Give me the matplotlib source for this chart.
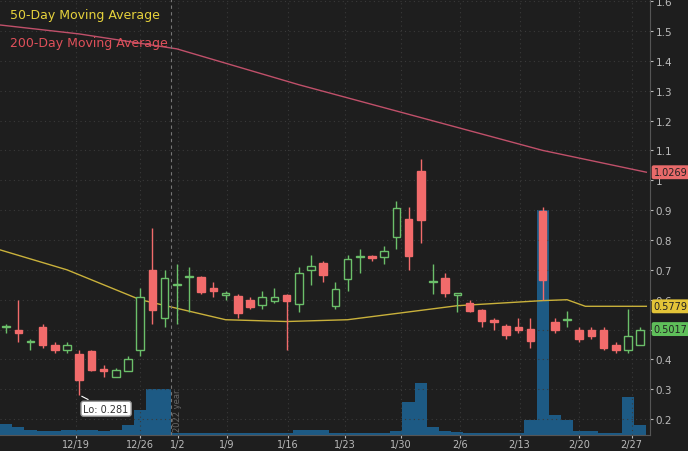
import matplotlib.pyplot as plt
import numpy as np

# OHLC per trading day (index 0 = first candle on the left)
opens = [0.507, 0.50, 0.457, 0.51, 0.45, 0.43, 0.417, 0.427, 0.367, 0.34, 0.36, 0.43, 0.70, 0.54,
         0.65, 0.677, 0.677, 0.64, 0.617, 0.613, 0.60, 0.583, 0.597, 0.617, 0.587, 0.70, 0.723, 0.58,
         0.67, 0.743, 0.747, 0.743, 0.81, 0.87, 1.03, 0.66, 0.673, 0.617, 0.59, 0.567, 0.53, 0.513,
         0.51, 0.503, 0.897, 0.527, 0.533, 0.50, 0.497, 0.50, 0.45, 0.433, 0.45]
closes = [0.507, 0.49, 0.457, 0.447, 0.43, 0.45, 0.33, 0.363, 0.36, 0.363, 0.40, 0.61, 0.567, 0.673,
          0.65, 0.677, 0.627, 0.63, 0.617, 0.557, 0.577, 0.61, 0.61, 0.597, 0.69, 0.713, 0.683, 0.637,
          0.737, 0.743, 0.74, 0.763, 0.907, 0.747, 0.867, 0.66, 0.623, 0.617, 0.563, 0.53, 0.527, 0.483,
          0.50, 0.463, 0.667, 0.50, 0.533, 0.47, 0.48, 0.437, 0.43, 0.477, 0.50]
highs = [0.52, 0.60, 0.47, 0.52, 0.46, 0.46, 0.433, 0.43, 0.38, 0.37, 0.41, 0.64, 0.84, 0.70,
         0.72, 0.71, 0.68, 0.66, 0.63, 0.62, 0.61, 0.63, 0.64, 0.62, 0.71, 0.75, 0.73, 0.66,
         0.75, 0.77, 0.75, 0.78, 0.93, 0.91, 1.07, 0.72, 0.69, 0.62, 0.60, 0.57, 0.54, 0.52,
         0.54, 0.54, 0.91, 0.54, 0.563, 0.51, 0.51, 0.51, 0.46, 0.57, 0.51]
lows = [0.49, 0.46, 0.43, 0.44, 0.42, 0.42, 0.281, 0.36, 0.34, 0.34, 0.36, 0.41, 0.52, 0.51,
        0.52, 0.56, 0.62, 0.61, 0.60, 0.54, 0.57, 0.57, 0.59, 0.43, 0.56, 0.65, 0.66, 0.57,
        0.63, 0.69, 0.73, 0.72, 0.77, 0.70, 0.79, 0.62, 0.61, 0.56, 0.56, 0.51, 0.50, 0.47,
        0.49, 0.44, 0.60, 0.49, 0.51, 0.46, 0.47, 0.43, 0.42, 0.42, 0.45]
# volume bar tops, drawn in price units above the bottom of the chart
volume = [0.183, 0.173, 0.163, 0.16, 0.16, 0.163, 0.165, 0.163, 0.16, 0.163, 0.18, 0.23, 0.30, 0.30,
          0.155, 0.155, 0.155, 0.155, 0.155, 0.155, 0.155, 0.155, 0.155, 0.155, 0.165, 0.165, 0.165, 0.155,
          0.155, 0.155, 0.155, 0.155, 0.16, 0.257, 0.32, 0.173, 0.16, 0.158, 0.155, 0.155, 0.155, 0.155,
          0.155, 0.197, 0.90, 0.213, 0.197, 0.16, 0.16, 0.155, 0.155, 0.273, 0.18]

ma50_idx = [-0.5, 5, 11, 18, 23, 28, 37, 44, 46, 47.5, 52.5]
ma50 = [0.767, 0.70, 0.60, 0.533, 0.527, 0.533, 0.58, 0.597, 0.60, 0.578, 0.578]
ma200_idx = [-0.5, 6, 14, 24, 34, 44, 52.5]
ma200 = [1.52, 1.49, 1.44, 1.32, 1.21, 1.10, 1.027]

date_labels = ['12/19', '12/26', '1/2', '1/9', '1/16', '1/23', '1/30', '2/6', '2/13', '2/20', '2/27']
date_pos = [5.7, 11.0, 14.1, 18.1, 23.1, 27.8, 32.4, 37.2, 42.1, 47.0, 51.3]

bg = '#1e1e1e'
red = '#f26b6b'
green = '#6bbf6a'

fig = plt.figure(figsize=(6.88, 4.52), dpi=100, facecolor=bg)
ax = fig.add_axes([0, 16 / 452, 650 / 688, 436 / 452], facecolor=bg)
bottom, top = 0.147, 1.607
ax.set_xlim(-0.5, 52.8)
ax.set_ylim(bottom, top)

x = np.arange(len(opens))
ax.bar(x, np.array(volume) - bottom, bottom=bottom, width=1.0, color='#1d5a84', zorder=1)

for i in x:
    o, c, h, l = opens[i], closes[i], highs[i], lows[i]
    up = c >= o
    col = green if up else red
    ax.vlines(i, l, h, color=col, lw=1, zorder=3)
    lo, hi = min(o, c), max(o, c)
    height = max(hi - lo, 0.004)
    ax.bar(i, height, bottom=lo, width=0.62, zorder=4,
           facecolor=bg if up else red, edgecolor=col, lw=1)

ax.plot(ma50_idx, ma50, color='#c9b13b', lw=1, zorder=2)
ax.plot(ma200_idx, ma200, color='#c0506a', lw=1, zorder=2)

ax.grid(True, color='#3a3a3a', ls=(0, (1, 3)), lw=0.8)
ax.axvline(13.5, color='#777777', ls=(0, (3, 3)), lw=0.8)
ax.text(13.7, 0.16, '2022 year', rotation=90, color='#666666', fontsize=6, va='bottom')

ax.set_xticks(date_pos, date_labels)
ax.set_yticks(np.arange(0.2, 1.61, 0.1))
ax.set_yticklabels([f'{v:g}' for v in np.arange(0.2, 1.61, 0.1).round(1)])
ax.yaxis.tick_right()
ax.tick_params(colors='#bbbbbb', labelsize=7.5, length=2, pad=2)
ax.tick_params(axis='x', pad=1, labelsize=7)
for s in ax.spines.values():
    s.set_visible(False)
ax.spines['right'].set_visible(True)
ax.spines['right'].set_color('#555555')
ax.spines['bottom'].set_visible(True)
ax.spines['bottom'].set_color('#555555')

ax.text(0.3, 1.545, '50-Day Moving Average', color='#e6d23c', fontsize=9)
ax.text(0.3, 1.45, '200-Day Moving Average', color='#e0505a', fontsize=9)
ax.annotate('Lo: 0.281', xy=(6, 0.281), xytext=(8.2, 0.235), color='#333333', fontsize=7,
            ha='center', va='center',
            bbox=dict(boxstyle='round,pad=0.25', fc='white', ec='#999999'),
            arrowprops=dict(arrowstyle='-', color='white', lw=0.8))

for val, fc in [(1.0269, '#e86a6a'), (0.5779, '#e3c438'), (0.5017, '#5fbf5a')]:
    ax.text(53.1, val, f'{val:.4f}', color='#222222', fontsize=7, va='center', ha='left',
            bbox=dict(boxstyle='round,pad=0.2', fc=fc, ec='none'), clip_on=False, zorder=10)

fig.savefig('out.png', dpi=100, facecolor=bg)
